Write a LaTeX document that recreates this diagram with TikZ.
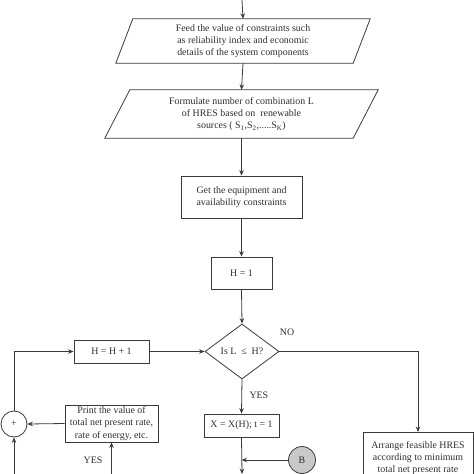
\documentclass[tikz,border=0pt]{standalone}
\usepackage{fontspec}
\setmainfont{Liberation Serif}
\usetikzlibrary{arrows.meta,calc,shapes.geometric}
\definecolor{ln}{HTML}{3A3A3A}
\definecolor{tx}{HTML}{2E2E2E}
\definecolor{bfill}{HTML}{C9C9C9}
\tikzset{
  every node/.style={text=tx,font=\fontsize{9.9}{12.2}\selectfont},
  flow/.style={draw=ln,line width=0.8pt,-{Stealth[length=5.5pt,width=4.5pt]}},
  plain/.style={draw=ln,line width=0.8pt},
  boxnode/.style={draw=ln,line width=0.8pt,align=center,inner sep=0pt},
  pnode/.style={align=center,inner sep=0pt},
  circnode/.style={draw=ln,line width=0.8pt,circle,inner sep=0pt,minimum size=26pt},
  lbl/.style={font=\fontsize{9.9}{12}\selectfont}
}
\begin{document}
\begin{tikzpicture}[x=1pt,y=-1pt]
\useasboundingbox (0,0) rectangle (474,474);
\clip (0,0) rectangle (474,474);
% parallelogram 1
\node[pnode,minimum width=237pt,minimum height=44pt] (p1) at (243,41)
  {Feed the value of constraints such\\as reliability index and economic\\details of the system components};
\draw[plain] ($(p1.north west)+(8.5,0)$) -- ($(p1.north east)+(8.5,0)$) -- ($(p1.south east)+(-8.5,0)$) -- ($(p1.south west)+(-8.5,0)$) -- cycle;
% parallelogram 2
\node[pnode,minimum width=248pt,minimum height=48pt] (p2) at (241.5,114)
  {Formulate number of combination L\\of HRES based on\ \ renewable\\sources ( S\textsubscript{1},S\textsubscript{2},.....S\textsubscript{K})};
\draw[plain] ($(p2.north west)+(12.5,0)$) -- ($(p2.north east)+(12.5,0)$) -- ($(p2.south east)+(-12.5,0)$) -- ($(p2.south west)+(-12.5,0)$) -- cycle;
\node[boxnode,minimum width=121pt,minimum height=42pt] (b3) at (241.5,197)
  {Get the equipment and\\availability constraints};
\node[boxnode,minimum width=61pt,minimum height=32pt] (h1) at (241.5,273) {H = 1};
\node[draw=ln,line width=0.8pt,diamond,inner sep=0pt,minimum width=74pt,minimum height=55pt] (dm) at (242,351.5) {Is L\ \ ≤\ \ H?};
\node[boxnode,minimum width=75pt,minimum height=23pt] (hh) at (111.5,351.5) {H = H + 1};
\node[boxnode,minimum width=93pt,minimum height=37pt] (pr) at (111.5,423.5)
  {Print the value of\\total net present rate,\\rate of energy, etc.};
\node[circnode] (pl) at (14,424) {+};
\node[boxnode,minimum width=75pt,minimum height=23pt] (xb) at (241.5,425.5) {X = X(H); t = 1};
\node[circnode,fill=bfill,minimum size=27pt] (bc) at (302,460) {B};
\node[boxnode,minimum width=110pt,minimum height=62pt,anchor=north] (ar) at (418,432)
  {Arrange feasible HRES\\according to minimum\\total net present rate\\\phantom{x}};
% coordinates
\coordinate (top) at (242,0);
\coordinate (botx) at (242,474);
\coordinate (botl) at (14,474);
\coordinate (botp) at (111.5,474);
% connectors
\draw[flow] (top) -- (p1.north);
\draw[flow] (p1.south) -- (p2.north);
\draw[flow] (p2.south) -- (b3.north);
\draw[flow] (b3.south) -- (h1.north);
\draw[flow] (h1.south) -- (dm.north);
\draw[flow] (dm.south) -- node[lbl,right=4pt,pos=0.45]{YES} (xb.north);
\draw[flow] (dm.east) -- (ar.north |- dm.east) -- (ar.north);
\node[lbl] (no) at (287,332) {NO};
\draw[flow] (hh.east) -- (dm.west);
\draw[flow] (pl.north) |- (hh.west);
\draw[flow] (pr.west) -- (pl.east);
\draw[flow] (botl) -- (pl.south);
\draw[flow] (botp) -- (pr.south);
\node[lbl] (yes2) at (93,460) {YES};
\draw[flow] (xb.south) -- (botx);
\draw[flow] (bc.west) -- (bc.west -| xb.south);
\end{tikzpicture}
\end{document}
